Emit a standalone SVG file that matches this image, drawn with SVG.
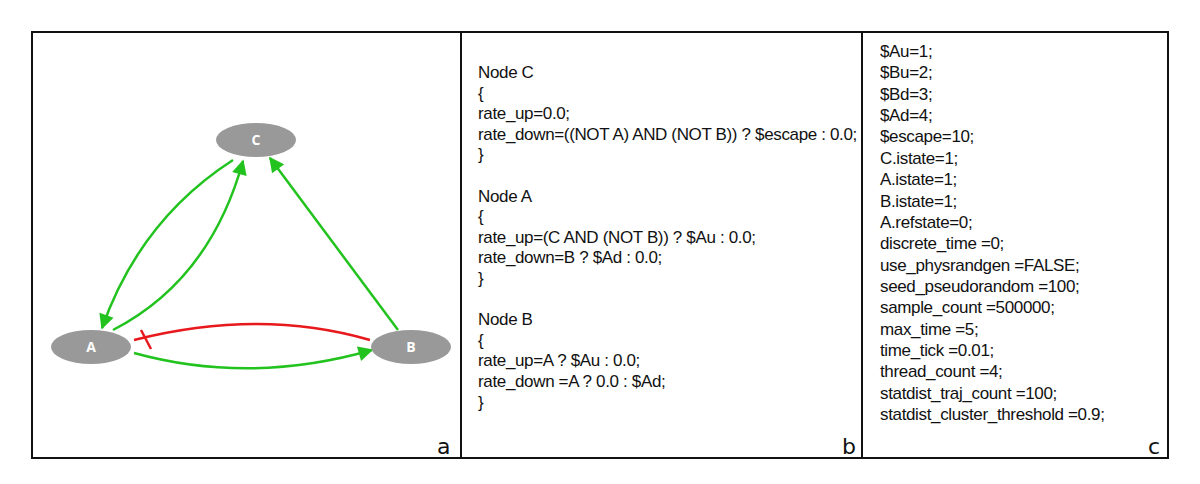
<svg xmlns="http://www.w3.org/2000/svg" width="1200" height="484" viewBox="0 0 1200 484">
<style>
.t{font-family:"Liberation Sans",Arial,sans-serif;font-size:17px;fill:#111;letter-spacing:-0.35px}
.lab{font-family:"DejaVu Sans",sans-serif;font-size:22px;fill:#111}
.node ellipse{fill:#999}
.node text{font-family:"Open Sans","DejaVu Sans",sans-serif;font-size:14px;font-weight:bold;fill:#fff;text-anchor:middle}
.g{stroke:#22c31e;stroke-width:2.5;fill:none;marker-end:url(#ah)}
.r{stroke:#e8191c;stroke-width:2.5;fill:none}
</style>
<defs>
<marker id="ah" viewBox="0 0 10 10" refX="9" refY="5" markerWidth="6.5" markerHeight="6" orient="auto" markerUnits="strokeWidth"><path d="M0,0L10,5L0,10z" fill="#22c31e"/></marker>
</defs>
<rect x="32" y="32" width="1136" height="426" fill="#fff" stroke="#111" stroke-width="2"/>
<line x1="461" y1="32" x2="461" y2="458" stroke="#111" stroke-width="2"/>
<line x1="862" y1="32" x2="862" y2="458" stroke="#111" stroke-width="2"/>
<g id="connectors">
<path class="g" d="M233,160 Q140,220 102,328"/>
<path class="g" d="M113,330 Q210,280 243,161"/>
<path class="g" d="M398,330 L270,158"/>
<path class="r" d="M370,340 Q260,308 134,340"/>
<line class="r" x1="141" y1="330" x2="151" y2="349"/>
<path class="g" d="M134,353 Q250,385 372,350"/>
</g>
<g id="C" class="node"><ellipse cx="256" cy="140" rx="40" ry="17"/><text x="256" y="145">C</text></g>
<g id="A" class="node"><ellipse cx="91" cy="347" rx="40" ry="17"/><text x="91" y="352">A</text></g>
<g id="B" class="node"><ellipse cx="411" cy="347" rx="40" ry="17"/><text x="411" y="352">B</text></g>
<g id="panel-b" class="t">
<text x="478" y="78">Node C</text>
<text x="478" y="98.6">{</text>
<text x="478" y="119.2">rate_up=0.0;</text>
<text x="478" y="139.8">rate_down=((NOT A) AND (NOT B)) ? $escape : 0.0;</text>
<text x="478" y="160.4">}</text>
<text x="478" y="201.6">Node A</text>
<text x="478" y="222.2">{</text>
<text x="478" y="242.8">rate_up=(C AND (NOT B))  ? $Au : 0.0;</text>
<text x="478" y="263.4">rate_down=B ? $Ad : 0.0;</text>
<text x="478" y="284">}</text>
<text x="478" y="325.2">Node B</text>
<text x="478" y="345.8">{</text>
<text x="478" y="366.4">rate_up=A ? $Au : 0.0;</text>
<text x="478" y="387">rate_down =A ? 0.0 : $Ad;</text>
<text x="478" y="407.6">}</text>
</g>
<g id="panel-c" class="t">
<text x="880" y="57">$Au=1;</text>
<text x="880" y="78.4">$Bu=2;</text>
<text x="880" y="99.7">$Bd=3;</text>
<text x="880" y="121">$Ad=4;</text>
<text x="880" y="142.4">$escape=10;</text>
<text x="880" y="163.8">C.istate=1;</text>
<text x="880" y="185.1">A.istate=1;</text>
<text x="880" y="206.5">B.istate=1;</text>
<text x="880" y="227.8">A.refstate=0;</text>
<text x="880" y="249.2">discrete_time =0;</text>
<text x="880" y="270.5">use_physrandgen =FALSE;</text>
<text x="880" y="291.9">seed_pseudorandom =100;</text>
<text x="880" y="313.2">sample_count =500000;</text>
<text x="880" y="334.6">max_time =5;</text>
<text x="880" y="355.9">time_tick =0.01;</text>
<text x="880" y="377.3">thread_count =4;</text>
<text x="880" y="398.6">statdist_traj_count =100;</text>
<text x="880" y="420">statdist_cluster_threshold =0.9;</text>
</g>
<text class="lab" x="437" y="454">a</text>
<text class="lab" x="842" y="454">b</text>
<text class="lab" x="1148" y="454">c</text>
</svg>
